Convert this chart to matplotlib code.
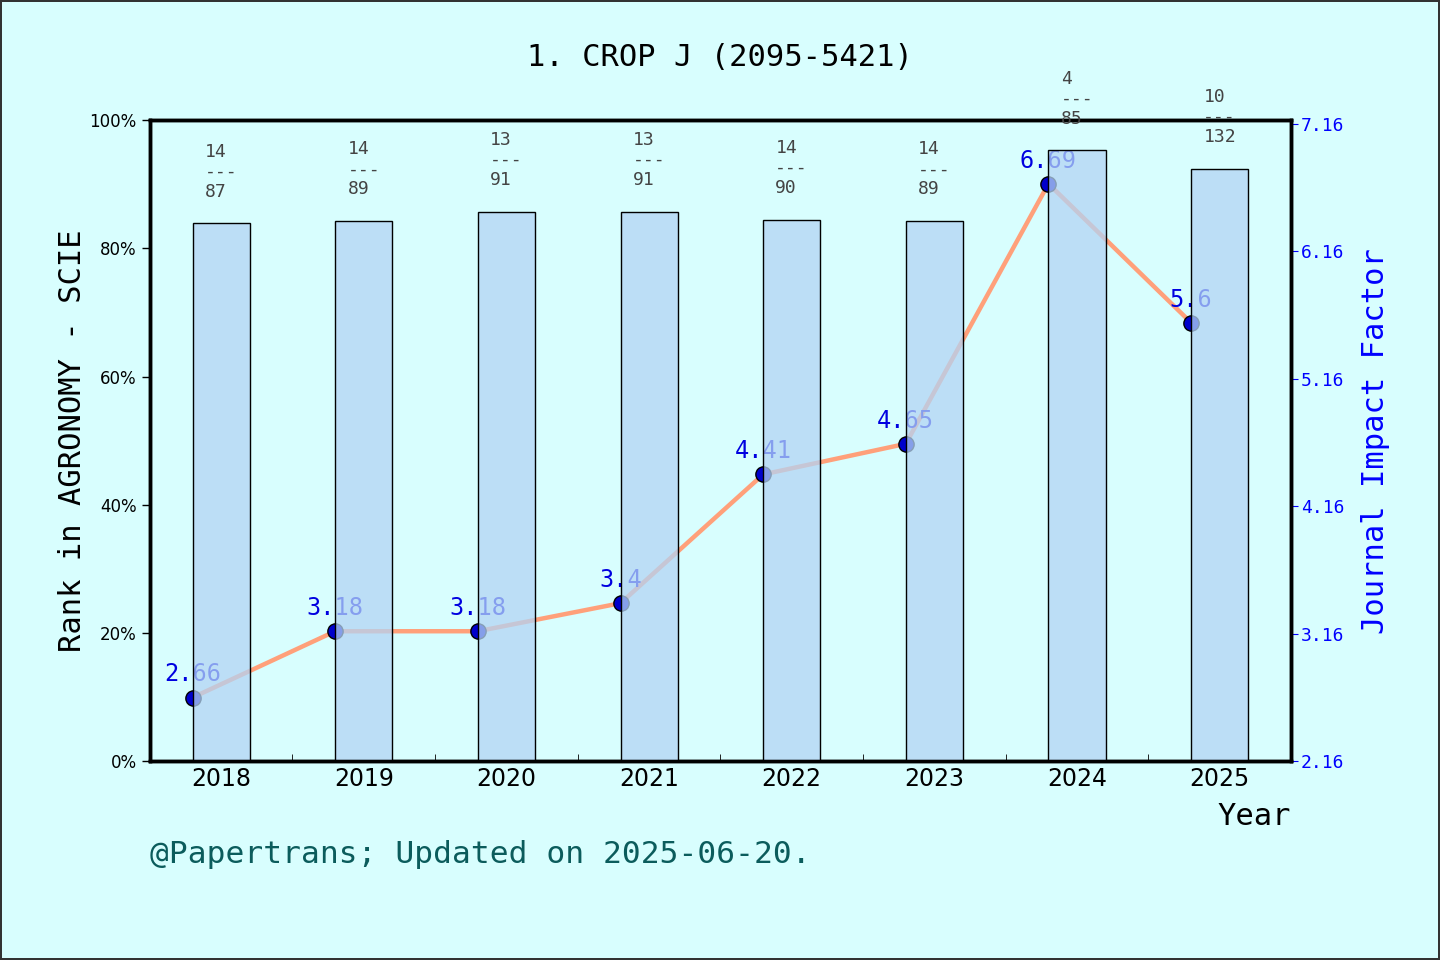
import numpy as np
import matplotlib
matplotlib.use("Agg")
import matplotlib.pyplot as plt

# data
years = ['2018', '2019', '2020', '2021', '2022', '2023', '2024', '2025']
ranks = [14, 14, 13, 13, 14, 14, 4, 10]
totals = [87, 89, 91, 91, 90, 89, 85, 132]
jif = [2.66, 3.18, 3.18, 3.4, 4.41, 4.65, 6.69, 5.6]

mono = 'DejaVu Sans Mono'
bg = '#d8fefe'

pct = [1 - r / t for r, t in zip(ranks, totals)]
x = np.arange(len(years))

fig = plt.figure(figsize=(14.4, 9.6), dpi=100, facecolor=bg,
                 edgecolor='#333333', linewidth=1.5)
ax1 = fig.add_axes([0.104, 0.207, 0.7925, 0.668])
ax2 = ax1.twinx()

# bars go on top of the line (semi transparent)
ax1.set_zorder(ax2.get_zorder() + 1)
ax1.patch.set_visible(False)
ax2.patch.set_facecolor('white')

ax1.bar(x, pct, width=0.4, color=(179/255, 212/255, 244/255, 0.75),
        edgecolor='black', linewidth=1)
for i in range(len(years)):
    ax1.text(x[i], pct[i] + 0.035, f"{ranks[i]}\n---\n{totals[i]}",
             ha='center', va='bottom', multialignment='left',
             fontsize=13, family=mono, color='#444444', linespacing=1.15,
             clip_on=False)

ax1.set_xlim(-0.5, 7.5)
ax1.set_ylim(0, 1)
ax1.set_yticks([0, 0.2, 0.4, 0.6, 0.8, 1.0])
ax1.set_yticklabels(['0%', '20%', '40%', '60%', '80%', '100%'], fontsize=12)
ax1.set_xticks(x)
ax1.set_xticklabels(years, fontsize=17)
ax1.set_xticks(x[:-1] + 0.5, minor=True)
ax1.tick_params(axis='x', which='major', length=0, pad=4)
ax1.tick_params(axis='x', which='minor', direction='in', length=5)
ax1.tick_params(axis='y', length=6, width=1)
ax1.set_ylabel('Rank in AGRONOMY - SCIE', fontsize=22, family=mono, labelpad=2)
ax1.set_xlabel('Year', fontsize=22, family=mono, loc='right', labelpad=8)
for s in ax1.spines.values():
    s.set_linewidth(2.5)

# impact factor line
xl = x - 0.2
ax2.plot(xl, jif, color='#ffa07a', linewidth=3.2, zorder=2)
ax2.plot(xl, jif, 'o', markersize=11, markerfacecolor='#0000cc',
         markeredgecolor='black', markeredgewidth=1, zorder=3)
for i in range(len(years)):
    ax2.annotate(f"{jif[i]}", (xl[i], jif[i]), xytext=(0, 8),
                 textcoords='offset points', ha='center', va='bottom',
                 fontsize=17, family=mono, color='#0000e0')

ax2.set_ylim(min(jif) - 0.5, max(jif) + 0.5)
rt = np.arange(min(jif) - 0.5, max(jif) + 0.5, 1.0)
ax2.set_yticks(rt)
ax2.set_yticklabels([f"{v:.2f}" for v in rt], fontsize=13, family=mono,
                    color='#0000ff')
ax2.tick_params(axis='y', colors='#0000ff', length=5, pad=2)
ax2.set_ylabel('Journal Impact Factor', fontsize=22, family=mono,
               color='#0000ff', labelpad=12)
for s in ax2.spines.values():
    s.set_linewidth(2.5)

fig.text(0.5, 0.94, '1. CROP J (2095-5421)', ha='center', va='center',
         fontsize=22, family=mono)
fig.text(0.104, 0.11, '@Papertrans; Updated on 2025-06-20.', ha='left',
         va='center', fontsize=22.5, family=mono, color='#0b5c5c')

fig.savefig('out.png', dpi=100, facecolor=bg)
